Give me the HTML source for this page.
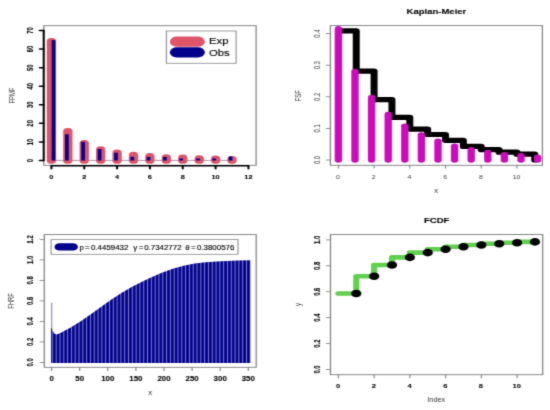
<!DOCTYPE html>
<html><head><meta charset="utf-8"><title>plots</title>
<style>
html,body{margin:0;padding:0;background:#fff;}
body{width:550px;height:410px;overflow:hidden;}
svg{display:block;font-family:'Liberation Sans', Arial, Helvetica, sans-serif;}
text.k{stroke:#000;stroke-width:0.1px;}
text.b{stroke:#000;stroke-width:0.08px;}
#w{width:550px;height:410px;filter:url(#bl);}
</style></head><body>
<svg width="0" height="0" style="position:absolute"><filter id="bl" x="0" y="0" width="100%" height="100%" color-interpolation-filters="sRGB"><feConvolveMatrix order="3" kernelMatrix="1 4 1 6 24 6 1 4 1" divisor="48" edgeMode="duplicate"/></filter></svg>
<div id="w">
<svg width="550" height="410" viewBox="0 0 410 410" preserveAspectRatio="none">
<defs>
<pattern id="stripes" patternUnits="userSpaceOnUse" x="41.517" y="0" width="2.8372" height="10">
<rect x="0" y="0" width="2.8372" height="10" fill="#00008B"/>
<rect x="0" y="0" width="0.745" height="10" fill="#8484d0"/>
</pattern>
</defs>
<rect x="0" y="0" width="410" height="410" fill="#fff"/>
<rect x="32.65" y="25.7" width="158.26" height="139.6" fill="none" stroke="#7c7c7c" stroke-width="0.9"/>
<line x1="38.32" y1="160.4" x2="172.96" y2="160.4" stroke="#888" stroke-width="0.7" stroke-linecap="butt"/>
<line x1="38.32" y1="160.4" x2="38.32" y2="41.37" stroke="#DF536B" stroke-width="6.93" stroke-linecap="round"/>
<line x1="50.56" y1="160.4" x2="50.56" y2="131.47" stroke="#DF536B" stroke-width="6.93" stroke-linecap="round"/>
<line x1="62.8" y1="160.4" x2="62.8" y2="143.37" stroke="#DF536B" stroke-width="6.93" stroke-linecap="round"/>
<line x1="75.04" y1="160.4" x2="75.04" y2="149.67" stroke="#DF536B" stroke-width="6.93" stroke-linecap="round"/>
<line x1="87.28" y1="160.4" x2="87.28" y2="152.87" stroke="#DF536B" stroke-width="6.93" stroke-linecap="round"/>
<line x1="99.52" y1="160.4" x2="99.52" y2="155.17" stroke="#DF536B" stroke-width="6.93" stroke-linecap="round"/>
<line x1="111.76" y1="160.4" x2="111.76" y2="156.57" stroke="#DF536B" stroke-width="6.93" stroke-linecap="round"/>
<line x1="124.0" y1="160.4" x2="124.0" y2="157.67" stroke="#DF536B" stroke-width="6.93" stroke-linecap="round"/>
<line x1="136.24" y1="160.4" x2="136.24" y2="158.07" stroke="#DF536B" stroke-width="6.93" stroke-linecap="round"/>
<line x1="148.48" y1="160.4" x2="148.48" y2="158.77" stroke="#DF536B" stroke-width="6.93" stroke-linecap="round"/>
<line x1="160.72" y1="160.4" x2="160.72" y2="158.97" stroke="#DF536B" stroke-width="6.93" stroke-linecap="round"/>
<line x1="172.96" y1="160.4" x2="172.96" y2="159.37" stroke="#DF536B" stroke-width="6.93" stroke-linecap="round"/>
<line x1="39.88" y1="160.5" x2="39.88" y2="40.1" stroke="#00008B" stroke-width="2.76" stroke-linecap="butt"/>
<line x1="49.87" y1="160.5" x2="49.87" y2="134.3" stroke="#00008B" stroke-width="2.76" stroke-linecap="butt"/>
<line x1="61.95" y1="160.5" x2="61.95" y2="141.8" stroke="#00008B" stroke-width="2.76" stroke-linecap="butt"/>
<line x1="74.25" y1="160.5" x2="74.25" y2="149.1" stroke="#00008B" stroke-width="2.76" stroke-linecap="butt"/>
<line x1="86.47" y1="160.5" x2="86.47" y2="152.7" stroke="#00008B" stroke-width="2.76" stroke-linecap="butt"/>
<line x1="98.62" y1="160.5" x2="98.62" y2="156.8" stroke="#00008B" stroke-width="2.76" stroke-linecap="butt"/>
<line x1="110.7" y1="160.5" x2="110.7" y2="156.9" stroke="#00008B" stroke-width="2.76" stroke-linecap="butt"/>
<line x1="122.93" y1="160.5" x2="122.93" y2="156.9" stroke="#00008B" stroke-width="2.76" stroke-linecap="butt"/>
<line x1="135.0" y1="160.5" x2="135.0" y2="158.5" stroke="#00008B" stroke-width="2.76" stroke-linecap="butt"/>
<line x1="147.6" y1="160.5" x2="147.6" y2="158.5" stroke="#00008B" stroke-width="2.76" stroke-linecap="butt"/>
<line x1="159.68" y1="160.5" x2="159.68" y2="158.5" stroke="#00008B" stroke-width="2.76" stroke-linecap="butt"/>
<line x1="171.83" y1="160.5" x2="171.83" y2="156.5" stroke="#00008B" stroke-width="2.76" stroke-linecap="butt"/>
<line x1="32.58" y1="160.5" x2="32.58" y2="30.51" stroke="#000" stroke-width="1.5" stroke-linecap="round"/>
<line x1="32.58" y1="160.5" x2="29.52" y2="160.5" stroke="#000" stroke-width="1.5" stroke-linecap="round"/>
<text class="b" transform="translate(24.53,160.5) rotate(-90) scale(1,1.18)" x="0" y="0" font-size="5.9" text-anchor="middle" font-weight="bold" fill="#000">0</text>
<line x1="32.58" y1="141.93" x2="29.52" y2="141.93" stroke="#000" stroke-width="1.5" stroke-linecap="round"/>
<text class="b" transform="translate(24.53,141.93) rotate(-90) scale(1,1.18)" x="0" y="0" font-size="5.9" text-anchor="middle" font-weight="bold" fill="#000">10</text>
<line x1="32.58" y1="123.36" x2="29.52" y2="123.36" stroke="#000" stroke-width="1.5" stroke-linecap="round"/>
<text class="b" transform="translate(24.53,123.36) rotate(-90) scale(1,1.18)" x="0" y="0" font-size="5.9" text-anchor="middle" font-weight="bold" fill="#000">20</text>
<line x1="32.58" y1="104.79" x2="29.52" y2="104.79" stroke="#000" stroke-width="1.5" stroke-linecap="round"/>
<text class="b" transform="translate(24.53,104.79) rotate(-90) scale(1,1.18)" x="0" y="0" font-size="5.9" text-anchor="middle" font-weight="bold" fill="#000">30</text>
<line x1="32.58" y1="86.22" x2="29.52" y2="86.22" stroke="#000" stroke-width="1.5" stroke-linecap="round"/>
<text class="b" transform="translate(24.53,86.22) rotate(-90) scale(1,1.18)" x="0" y="0" font-size="5.9" text-anchor="middle" font-weight="bold" fill="#000">40</text>
<line x1="32.58" y1="67.65" x2="29.52" y2="67.65" stroke="#000" stroke-width="1.5" stroke-linecap="round"/>
<text class="b" transform="translate(24.53,67.65) rotate(-90) scale(1,1.18)" x="0" y="0" font-size="5.9" text-anchor="middle" font-weight="bold" fill="#000">50</text>
<line x1="32.58" y1="49.08" x2="29.52" y2="49.08" stroke="#000" stroke-width="1.5" stroke-linecap="round"/>
<text class="b" transform="translate(24.53,49.08) rotate(-90) scale(1,1.18)" x="0" y="0" font-size="5.9" text-anchor="middle" font-weight="bold" fill="#000">60</text>
<line x1="32.58" y1="30.51" x2="29.52" y2="30.51" stroke="#000" stroke-width="1.5" stroke-linecap="round"/>
<text class="b" transform="translate(24.53,30.51) rotate(-90) scale(1,1.18)" x="0" y="0" font-size="5.9" text-anchor="middle" font-weight="bold" fill="#000">70</text>
<line x1="38.32" y1="165.8" x2="185.2" y2="165.8" stroke="#000" stroke-width="1.5" stroke-linecap="round"/>
<line x1="38.32" y1="165.8" x2="38.32" y2="168.8" stroke="#000" stroke-width="1.5" stroke-linecap="round"/>
<text class="b" transform="translate(38.32,178.8) scale(1.0,1.12)" x="0" y="0" font-size="5.5" text-anchor="middle" font-weight="bold" fill="#000">0</text>
<line x1="62.8" y1="165.8" x2="62.8" y2="168.8" stroke="#000" stroke-width="1.5" stroke-linecap="round"/>
<text class="b" transform="translate(62.8,178.8) scale(1.0,1.12)" x="0" y="0" font-size="5.5" text-anchor="middle" font-weight="bold" fill="#000">2</text>
<line x1="87.28" y1="165.8" x2="87.28" y2="168.8" stroke="#000" stroke-width="1.5" stroke-linecap="round"/>
<text class="b" transform="translate(87.28,178.8) scale(1.0,1.12)" x="0" y="0" font-size="5.5" text-anchor="middle" font-weight="bold" fill="#000">4</text>
<line x1="111.76" y1="165.8" x2="111.76" y2="168.8" stroke="#000" stroke-width="1.5" stroke-linecap="round"/>
<text class="b" transform="translate(111.76,178.8) scale(1.0,1.12)" x="0" y="0" font-size="5.5" text-anchor="middle" font-weight="bold" fill="#000">6</text>
<line x1="136.24" y1="165.8" x2="136.24" y2="168.8" stroke="#000" stroke-width="1.5" stroke-linecap="round"/>
<text class="b" transform="translate(136.24,178.8) scale(1.0,1.12)" x="0" y="0" font-size="5.5" text-anchor="middle" font-weight="bold" fill="#000">8</text>
<line x1="160.72" y1="165.8" x2="160.72" y2="168.8" stroke="#000" stroke-width="1.5" stroke-linecap="round"/>
<text class="b" transform="translate(160.72,178.8) scale(1.0,1.12)" x="0" y="0" font-size="5.5" text-anchor="middle" font-weight="bold" fill="#000">10</text>
<line x1="185.2" y1="165.8" x2="185.2" y2="168.8" stroke="#000" stroke-width="1.5" stroke-linecap="round"/>
<text class="b" transform="translate(185.2,178.8) scale(1.0,1.12)" x="0" y="0" font-size="5.5" text-anchor="middle" font-weight="bold" fill="#000">12</text>
<text transform="translate(11.18,95.6) rotate(-90) scale(1,1.1)" x="0" y="0" font-size="5.9" text-anchor="middle" font-weight="normal" fill="#3a3a3a">FPMF</text>
<rect x="124.04" y="31.0" width="51.96" height="32.3" fill="none" stroke="#888" stroke-width="0.8"/>
<line x1="131.75" y1="41.7" x2="147.57" y2="41.7" stroke="#DF536B" stroke-width="10.2" stroke-linecap="round"/>
<line x1="131.75" y1="52.3" x2="147.57" y2="52.3" stroke="#00008B" stroke-width="10.2" stroke-linecap="round"/>
<text class="k" transform="translate(155.8,44.3) scale(1.07,1.18)" x="0" y="0" font-size="7.9" text-anchor="start" font-weight="normal" fill="#000">Exp</text>
<text class="k" transform="translate(155.8,55.8) scale(1.07,1.18)" x="0" y="0" font-size="7.9" text-anchor="start" font-weight="normal" fill="#000">Obs</text>
<text class="b" x="325.32" y="14.0" font-size="7.1" text-anchor="middle" font-weight="bold" fill="#000">Kaplan-Meier</text>
<polyline points="252.26,30.8 265.57,30.8 265.57,71.2 278.87,71.2 278.87,99.6 292.18,99.6 292.18,117.4 305.49,117.4 305.49,129.1 318.79,129.1 318.79,134.5 332.1,134.5 332.1,140.3 345.41,140.3 345.41,146.4 358.71,146.4 358.71,149.7 372.02,149.7 372.02,152.2 385.33,152.2 385.33,154.2 398.63,154.2 398.63,160.0" fill="none" stroke="#000" stroke-width="5.2" stroke-linecap="round" stroke-linejoin="round"/>
<line x1="252.26" y1="160.0" x2="252.26" y2="28.65" stroke="#CD0BBC" stroke-width="5.5" stroke-linecap="round"/>
<line x1="264.64" y1="160.0" x2="264.64" y2="71.55" stroke="#CD0BBC" stroke-width="5.5" stroke-linecap="round"/>
<line x1="277.01" y1="160.0" x2="277.01" y2="97.55" stroke="#CD0BBC" stroke-width="5.5" stroke-linecap="round"/>
<line x1="289.39" y1="160.0" x2="289.39" y2="114.55" stroke="#CD0BBC" stroke-width="5.5" stroke-linecap="round"/>
<line x1="301.76" y1="160.0" x2="301.76" y2="126.25" stroke="#CD0BBC" stroke-width="5.5" stroke-linecap="round"/>
<line x1="314.13" y1="160.0" x2="314.13" y2="135.05" stroke="#CD0BBC" stroke-width="5.5" stroke-linecap="round"/>
<line x1="326.51" y1="160.0" x2="326.51" y2="141.25" stroke="#CD0BBC" stroke-width="5.5" stroke-linecap="round"/>
<line x1="338.88" y1="160.0" x2="338.88" y2="146.15" stroke="#CD0BBC" stroke-width="5.5" stroke-linecap="round"/>
<line x1="351.26" y1="160.0" x2="351.26" y2="149.85" stroke="#CD0BBC" stroke-width="5.5" stroke-linecap="round"/>
<line x1="363.63" y1="160.0" x2="363.63" y2="152.45" stroke="#CD0BBC" stroke-width="5.5" stroke-linecap="round"/>
<line x1="376.01" y1="160.0" x2="376.01" y2="154.65" stroke="#CD0BBC" stroke-width="5.5" stroke-linecap="round"/>
<line x1="388.38" y1="160.0" x2="388.38" y2="155.75" stroke="#CD0BBC" stroke-width="5.5" stroke-linecap="round"/>
<line x1="400.76" y1="160.0" x2="400.76" y2="157.25" stroke="#CD0BBC" stroke-width="5.5" stroke-linecap="round"/>
<rect x="246.3" y="25.6" width="158.03" height="139.7" fill="none" stroke="#7c7c7c" stroke-width="0.9"/>
<line x1="246.3" y1="160.0" x2="242.87" y2="160.0" stroke="#7c7c7c" stroke-width="0.8" stroke-linecap="butt"/>
<text transform="translate(238.69,160.0) rotate(-90) scale(1,1.18)" x="0" y="0" font-size="5.9" text-anchor="middle" font-weight="normal" fill="#3a3a3a">0.0</text>
<line x1="246.3" y1="128.4" x2="242.87" y2="128.4" stroke="#7c7c7c" stroke-width="0.8" stroke-linecap="butt"/>
<text transform="translate(238.69,128.4) rotate(-90) scale(1,1.18)" x="0" y="0" font-size="5.9" text-anchor="middle" font-weight="normal" fill="#3a3a3a">0.1</text>
<line x1="246.3" y1="96.8" x2="242.87" y2="96.8" stroke="#7c7c7c" stroke-width="0.8" stroke-linecap="butt"/>
<text transform="translate(238.69,96.8) rotate(-90) scale(1,1.18)" x="0" y="0" font-size="5.9" text-anchor="middle" font-weight="normal" fill="#3a3a3a">0.2</text>
<line x1="246.3" y1="65.2" x2="242.87" y2="65.2" stroke="#7c7c7c" stroke-width="0.8" stroke-linecap="butt"/>
<text transform="translate(238.69,65.2) rotate(-90) scale(1,1.18)" x="0" y="0" font-size="5.9" text-anchor="middle" font-weight="normal" fill="#3a3a3a">0.3</text>
<line x1="246.3" y1="33.6" x2="242.87" y2="33.6" stroke="#7c7c7c" stroke-width="0.8" stroke-linecap="butt"/>
<text transform="translate(238.69,33.6) rotate(-90) scale(1,1.18)" x="0" y="0" font-size="5.9" text-anchor="middle" font-weight="normal" fill="#3a3a3a">0.4</text>
<line x1="252.26" y1="165.3" x2="252.26" y2="168.6" stroke="#7c7c7c" stroke-width="0.8" stroke-linecap="butt"/>
<text transform="translate(251.96,179.1) scale(0.9,1.0)" x="0" y="0" font-size="5.7" text-anchor="middle" font-weight="normal" fill="#3a3a3a">0</text>
<line x1="278.87" y1="165.3" x2="278.87" y2="168.6" stroke="#7c7c7c" stroke-width="0.8" stroke-linecap="butt"/>
<text transform="translate(278.58,179.1) scale(0.9,1.0)" x="0" y="0" font-size="5.7" text-anchor="middle" font-weight="normal" fill="#3a3a3a">2</text>
<line x1="305.49" y1="165.3" x2="305.49" y2="168.6" stroke="#7c7c7c" stroke-width="0.8" stroke-linecap="butt"/>
<text transform="translate(305.19,179.1) scale(0.9,1.0)" x="0" y="0" font-size="5.7" text-anchor="middle" font-weight="normal" fill="#3a3a3a">4</text>
<line x1="332.1" y1="165.3" x2="332.1" y2="168.6" stroke="#7c7c7c" stroke-width="0.8" stroke-linecap="butt"/>
<text transform="translate(331.8,179.1) scale(0.9,1.0)" x="0" y="0" font-size="5.7" text-anchor="middle" font-weight="normal" fill="#3a3a3a">6</text>
<line x1="358.71" y1="165.3" x2="358.71" y2="168.6" stroke="#7c7c7c" stroke-width="0.8" stroke-linecap="butt"/>
<text transform="translate(358.41,179.1) scale(0.9,1.0)" x="0" y="0" font-size="5.7" text-anchor="middle" font-weight="normal" fill="#3a3a3a">8</text>
<line x1="385.33" y1="165.3" x2="385.33" y2="168.6" stroke="#7c7c7c" stroke-width="0.8" stroke-linecap="butt"/>
<text transform="translate(385.03,179.1) scale(0.9,1.0)" x="0" y="0" font-size="5.7" text-anchor="middle" font-weight="normal" fill="#3a3a3a">10</text>
<text transform="translate(325.24,192.6) scale(1.0,1.15)" x="0" y="0" font-size="5.9" text-anchor="middle" font-weight="normal" fill="#3a3a3a">x</text>
<text transform="translate(224.31,95.7) rotate(-90) scale(1,1.1)" x="0" y="0" font-size="5.9" text-anchor="middle" font-weight="normal" fill="#3a3a3a">FSF</text>
<path d="M38.02,363.0 L38.02,327.8 L38.54,327.8 L39.51,331.5 L40.63,333.8 L42.19,334.5 L45.03,333.0 L48.45,330.6 L52.7,327.6 L60.46,321.0 L68.21,313.7 L75.96,306.2 L83.64,299.0 L91.39,292.3 L99.15,286.3 L106.6,281.2 L112.49,277.5 L120.61,272.7 L128.74,268.7 L136.87,265.7 L144.99,263.6 L153.19,262.3 L161.32,261.5 L169.44,260.9 L177.57,260.5 L186.51,260.3 L186.66,260.3 L186.66,363.0 Z" fill="url(#stripes)"/>
<line x1="38.54" y1="302.8" x2="38.54" y2="328.5" stroke="#7f7fd0" stroke-width="0.8" stroke-linecap="butt"/>
<rect x="33.02" y="234.6" width="157.97" height="132.7" fill="none" stroke="#7c7c7c" stroke-width="0.9"/>
<line x1="33.1" y1="362.4" x2="29.52" y2="362.4" stroke="#7c7c7c" stroke-width="0.8" stroke-linecap="butt"/>
<text class="b" transform="translate(24.45,362.4) rotate(-90) scale(1,1.18)" x="0" y="0" font-size="5.9" text-anchor="middle" font-weight="bold" fill="#000">0.0</text>
<line x1="33.1" y1="341.9" x2="29.52" y2="341.9" stroke="#7c7c7c" stroke-width="0.8" stroke-linecap="butt"/>
<text class="b" transform="translate(24.45,341.9) rotate(-90) scale(1,1.18)" x="0" y="0" font-size="5.9" text-anchor="middle" font-weight="bold" fill="#000">0.2</text>
<line x1="33.1" y1="321.4" x2="29.52" y2="321.4" stroke="#7c7c7c" stroke-width="0.8" stroke-linecap="butt"/>
<text class="b" transform="translate(24.45,321.4) rotate(-90) scale(1,1.18)" x="0" y="0" font-size="5.9" text-anchor="middle" font-weight="bold" fill="#000">0.4</text>
<line x1="33.1" y1="300.9" x2="29.52" y2="300.9" stroke="#7c7c7c" stroke-width="0.8" stroke-linecap="butt"/>
<text class="b" transform="translate(24.45,300.9) rotate(-90) scale(1,1.18)" x="0" y="0" font-size="5.9" text-anchor="middle" font-weight="bold" fill="#000">0.6</text>
<line x1="33.1" y1="280.4" x2="29.52" y2="280.4" stroke="#7c7c7c" stroke-width="0.8" stroke-linecap="butt"/>
<text class="b" transform="translate(24.45,280.4) rotate(-90) scale(1,1.18)" x="0" y="0" font-size="5.9" text-anchor="middle" font-weight="bold" fill="#000">0.8</text>
<line x1="33.1" y1="259.9" x2="29.52" y2="259.9" stroke="#7c7c7c" stroke-width="0.8" stroke-linecap="butt"/>
<text class="b" transform="translate(24.45,259.9) rotate(-90) scale(1,1.18)" x="0" y="0" font-size="5.9" text-anchor="middle" font-weight="bold" fill="#000">1.0</text>
<line x1="33.1" y1="239.4" x2="29.52" y2="239.4" stroke="#7c7c7c" stroke-width="0.8" stroke-linecap="butt"/>
<text class="b" transform="translate(24.45,239.4) rotate(-90) scale(1,1.18)" x="0" y="0" font-size="5.9" text-anchor="middle" font-weight="bold" fill="#000">1.2</text>
<line x1="38.47" y1="367.3" x2="38.47" y2="370.9" stroke="#7c7c7c" stroke-width="0.8" stroke-linecap="butt"/>
<text class="b" transform="translate(38.47,380.8) scale(1.0,1.1)" x="0" y="0" font-size="5.9" text-anchor="middle" font-weight="bold" fill="#000">0</text>
<line x1="59.41" y1="367.3" x2="59.41" y2="370.9" stroke="#7c7c7c" stroke-width="0.8" stroke-linecap="butt"/>
<text class="b" transform="translate(59.41,380.8) scale(1.0,1.1)" x="0" y="0" font-size="5.9" text-anchor="middle" font-weight="bold" fill="#000">50</text>
<line x1="80.36" y1="367.3" x2="80.36" y2="370.9" stroke="#7c7c7c" stroke-width="0.8" stroke-linecap="butt"/>
<text class="b" transform="translate(80.36,380.8) scale(1.0,1.1)" x="0" y="0" font-size="5.9" text-anchor="middle" font-weight="bold" fill="#000">100</text>
<line x1="101.31" y1="367.3" x2="101.31" y2="370.9" stroke="#7c7c7c" stroke-width="0.8" stroke-linecap="butt"/>
<text class="b" transform="translate(101.31,380.8) scale(1.0,1.1)" x="0" y="0" font-size="5.9" text-anchor="middle" font-weight="bold" fill="#000">150</text>
<line x1="122.25" y1="367.3" x2="122.25" y2="370.9" stroke="#7c7c7c" stroke-width="0.8" stroke-linecap="butt"/>
<text class="b" transform="translate(122.25,380.8) scale(1.0,1.1)" x="0" y="0" font-size="5.9" text-anchor="middle" font-weight="bold" fill="#000">200</text>
<line x1="143.2" y1="367.3" x2="143.2" y2="370.9" stroke="#7c7c7c" stroke-width="0.8" stroke-linecap="butt"/>
<text class="b" transform="translate(143.2,380.8) scale(1.0,1.1)" x="0" y="0" font-size="5.9" text-anchor="middle" font-weight="bold" fill="#000">250</text>
<line x1="164.15" y1="367.3" x2="164.15" y2="370.9" stroke="#7c7c7c" stroke-width="0.8" stroke-linecap="butt"/>
<text class="b" transform="translate(164.15,380.8) scale(1.0,1.1)" x="0" y="0" font-size="5.9" text-anchor="middle" font-weight="bold" fill="#000">300</text>
<line x1="185.1" y1="367.3" x2="185.1" y2="370.9" stroke="#7c7c7c" stroke-width="0.8" stroke-linecap="butt"/>
<text class="b" transform="translate(185.1,380.8) scale(1.0,1.1)" x="0" y="0" font-size="5.9" text-anchor="middle" font-weight="bold" fill="#000">350</text>
<text transform="translate(111.97,394.7) scale(1.0,1.15)" x="0" y="0" font-size="5.9" text-anchor="middle" font-weight="normal" fill="#3a3a3a">x</text>
<text transform="translate(10.44,301.0) rotate(-90) scale(1,1.1)" x="0" y="0" font-size="5.9" text-anchor="middle" font-weight="normal" fill="#3a3a3a">FHRF</text>
<rect x="38.09" y="239.6" width="139.33" height="14.7" fill="none" stroke="#888" stroke-width="0.8"/>
<line x1="44.28" y1="246.9" x2="54.42" y2="246.9" stroke="#00008B" stroke-width="7.3" stroke-linecap="round"/>
<text class="k" transform="translate(0,249.8) scale(1,1.2)" x="59.34" y="0" font-size="5.9" fill="#000"><tspan x="59.34">p</tspan><tspan x="63.29">=</tspan><tspan x="67.84">0.4459432</tspan><tspan x="99.29">&#947;</tspan><tspan x="103.47">=</tspan><tspan x="107.49">0.7342772</tspan><tspan x="138.06">&#952;</tspan><tspan x="142.38">=</tspan><tspan x="146.85">0.3800576</tspan></text>
<text class="b" x="325.54" y="223.0" font-size="7.1" text-anchor="middle" font-weight="bold" fill="#000">FCDF</text>
<polyline points="252.26,293.5 265.58,293.5 265.58,276.2 278.9,276.2 278.9,265.0 292.23,265.0 292.23,257.4 305.55,257.4 305.55,252.6 318.87,252.6 318.87,249.2 332.19,249.2 332.19,246.8 345.51,246.8 345.51,245.0 358.83,245.0 358.83,243.8 372.15,243.8 372.15,242.8 385.47,242.8 385.47,241.9 398.8,241.9" fill="none" stroke="#61D04F" stroke-width="4.6" stroke-linecap="round" stroke-linejoin="round"/>
<circle cx="265.58" cy="293.5" r="3.8" fill="#000"/>
<circle cx="278.9" cy="276.2" r="3.8" fill="#000"/>
<circle cx="292.23" cy="265.0" r="3.8" fill="#000"/>
<circle cx="305.55" cy="257.4" r="3.8" fill="#000"/>
<circle cx="318.87" cy="252.6" r="3.8" fill="#000"/>
<circle cx="332.19" cy="249.2" r="3.8" fill="#000"/>
<circle cx="345.51" cy="246.8" r="3.8" fill="#000"/>
<circle cx="358.83" cy="245.0" r="3.8" fill="#000"/>
<circle cx="372.15" cy="243.8" r="3.8" fill="#000"/>
<circle cx="385.47" cy="242.8" r="3.8" fill="#000"/>
<circle cx="398.8" cy="241.9" r="3.8" fill="#000"/>
<rect x="246.37" y="234.5" width="158.19" height="140.2" fill="none" stroke="#7c7c7c" stroke-width="0.9"/>
<line x1="246.37" y1="369.5" x2="242.87" y2="369.5" stroke="#7c7c7c" stroke-width="0.8" stroke-linecap="butt"/>
<text class="b" transform="translate(238.47,369.5) rotate(-90) scale(1,1.18)" x="0" y="0" font-size="5.9" text-anchor="middle" font-weight="bold" fill="#000">0.0</text>
<line x1="246.37" y1="343.58" x2="242.87" y2="343.58" stroke="#7c7c7c" stroke-width="0.8" stroke-linecap="butt"/>
<text class="b" transform="translate(238.47,343.58) rotate(-90) scale(1,1.18)" x="0" y="0" font-size="5.9" text-anchor="middle" font-weight="bold" fill="#000">0.2</text>
<line x1="246.37" y1="317.66" x2="242.87" y2="317.66" stroke="#7c7c7c" stroke-width="0.8" stroke-linecap="butt"/>
<text class="b" transform="translate(238.47,317.66) rotate(-90) scale(1,1.18)" x="0" y="0" font-size="5.9" text-anchor="middle" font-weight="bold" fill="#000">0.4</text>
<line x1="246.37" y1="291.74" x2="242.87" y2="291.74" stroke="#7c7c7c" stroke-width="0.8" stroke-linecap="butt"/>
<text class="b" transform="translate(238.47,291.74) rotate(-90) scale(1,1.18)" x="0" y="0" font-size="5.9" text-anchor="middle" font-weight="bold" fill="#000">0.6</text>
<line x1="246.37" y1="265.82" x2="242.87" y2="265.82" stroke="#7c7c7c" stroke-width="0.8" stroke-linecap="butt"/>
<text class="b" transform="translate(238.47,265.82) rotate(-90) scale(1,1.18)" x="0" y="0" font-size="5.9" text-anchor="middle" font-weight="bold" fill="#000">0.8</text>
<line x1="246.37" y1="239.9" x2="242.87" y2="239.9" stroke="#7c7c7c" stroke-width="0.8" stroke-linecap="butt"/>
<text class="b" transform="translate(238.47,239.9) rotate(-90) scale(1,1.18)" x="0" y="0" font-size="5.9" text-anchor="middle" font-weight="bold" fill="#000">1.0</text>
<line x1="252.26" y1="374.7" x2="252.26" y2="378.3" stroke="#7c7c7c" stroke-width="0.8" stroke-linecap="butt"/>
<text class="b" transform="translate(251.96,388.0) scale(1.0,1.12)" x="0" y="0" font-size="5.6" text-anchor="middle" font-weight="bold" fill="#000">0</text>
<line x1="278.9" y1="374.7" x2="278.9" y2="378.3" stroke="#7c7c7c" stroke-width="0.8" stroke-linecap="butt"/>
<text class="b" transform="translate(278.61,388.0) scale(1.0,1.12)" x="0" y="0" font-size="5.6" text-anchor="middle" font-weight="bold" fill="#000">2</text>
<line x1="305.55" y1="374.7" x2="305.55" y2="378.3" stroke="#7c7c7c" stroke-width="0.8" stroke-linecap="butt"/>
<text class="b" transform="translate(305.25,388.0) scale(1.0,1.12)" x="0" y="0" font-size="5.6" text-anchor="middle" font-weight="bold" fill="#000">4</text>
<line x1="332.19" y1="374.7" x2="332.19" y2="378.3" stroke="#7c7c7c" stroke-width="0.8" stroke-linecap="butt"/>
<text class="b" transform="translate(331.89,388.0) scale(1.0,1.12)" x="0" y="0" font-size="5.6" text-anchor="middle" font-weight="bold" fill="#000">6</text>
<line x1="358.83" y1="374.7" x2="358.83" y2="378.3" stroke="#7c7c7c" stroke-width="0.8" stroke-linecap="butt"/>
<text class="b" transform="translate(358.53,388.0) scale(1.0,1.12)" x="0" y="0" font-size="5.6" text-anchor="middle" font-weight="bold" fill="#000">8</text>
<line x1="385.47" y1="374.7" x2="385.47" y2="378.3" stroke="#7c7c7c" stroke-width="0.8" stroke-linecap="butt"/>
<text class="b" transform="translate(385.18,388.0) scale(1.0,1.12)" x="0" y="0" font-size="5.6" text-anchor="middle" font-weight="bold" fill="#000">10</text>
<text transform="translate(325.17,402.2) scale(0.92,1.12)" x="0" y="0" font-size="5.9" text-anchor="middle" font-weight="normal" fill="#333">Index</text>
<text transform="translate(224.31,304.6) rotate(-90) scale(1,1.1)" x="0" y="0" font-size="5.9" text-anchor="middle" font-weight="normal" fill="#333">y</text>
</svg></div>
</body></html>
